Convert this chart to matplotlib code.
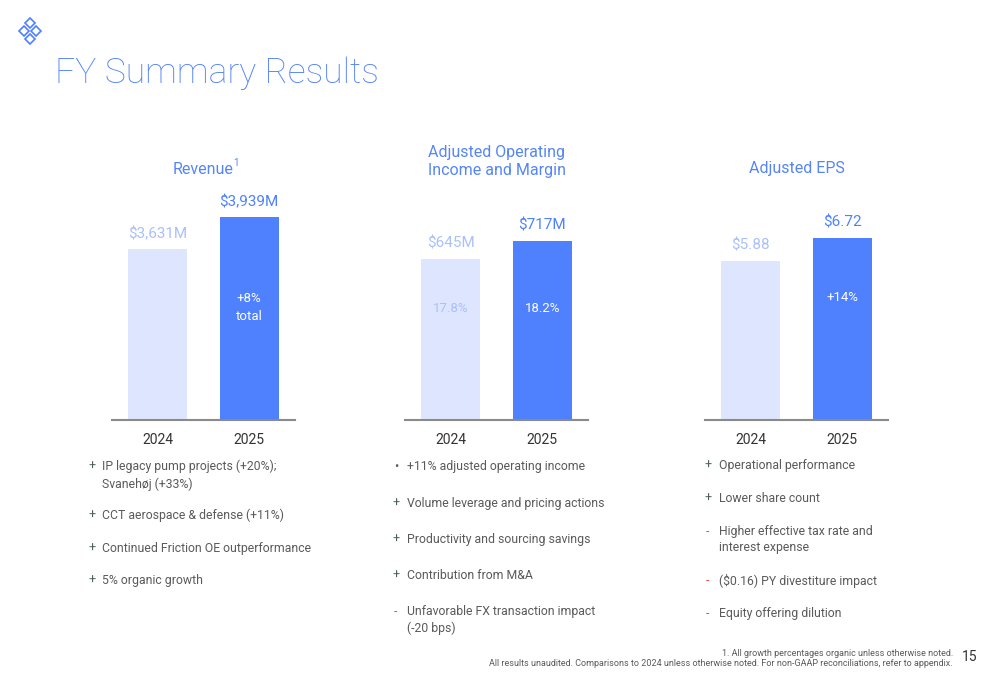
import matplotlib
matplotlib.use("Agg")
import matplotlib.pyplot as plt
from matplotlib.patches import Polygon
from matplotlib.transforms import blended_transform_factory

plt.rcParams['font.family'] = ['Roboto', 'DejaVu Sans']

# data
years = ["2024", "2025"]
revenue = [3631, 3939]
revenue_labels = ["$3,631M", "$3,939M"]
op_income = [645, 717]
op_income_labels = ["$645M", "$717M"]
op_margin = ["17.8%", "18.2%"]
eps = [5.88, 6.72]
eps_labels = ["$5.88", "$6.72"]

rev_notes = [("+", "IP legacy pump projects (+20%);\nSvanehøj (+33%)"),
             ("+", "CCT aerospace & defense (+11%)"),
             ("+", "Continued Friction OE outperformance"),
             ("+", "5% organic growth")]
op_notes = [("•", "+11% adjusted operating income"),
            ("+", "Volume leverage and pricing actions"),
            ("+", "Productivity and sourcing savings"),
            ("+", "Contribution from M&A"),
            ("-", "Unfavorable FX transaction impact\n(-20 bps)")]
eps_notes = [("+", "Operational performance"),
             ("+", "Lower share count"),
             ("-", "Higher effective tax rate and\ninterest expense"),
             ("-", "($0.16) PY divestiture impact"),
             ("-", "Equity offering dilution")]

# colours
BLUE = "#4F81FF"
LIGHT = "#DDE6FE"
LIGHT_TXT = "#A9C0FB"
TITLE = "#5585F7"
GREY = "#5a5a5a"
PLUS = "#4A6355"
MINUS = "#E0505A"

W, H = 1000, 685
fig = plt.figure(figsize=(10, 6.85), dpi=100)

def fx(x):
    return x / W

def fy(y):
    return 1 - y / H

# logo
for cx, cy in [(30, 23), (24, 31), (36, 31), (30, 39)]:
    d = 5
    fig.patches.append(Polygon([(fx(cx), fy(cy - d)), (fx(cx + d), fy(cy)),
                                (fx(cx), fy(cy + d)), (fx(cx - d), fy(cy))],
                               closed=True, fill=False, edgecolor=BLUE, lw=1.2,
                               transform=fig.transFigure))

fig.text(fx(55), fy(73), "FY Summary Results", fontsize=25.5, color=TITLE,
         fontweight='light', va='center', ha='left')

panels = [
    (112, "Revenue", 169, revenue, revenue_labels, (1985, 4680), ["", "+8%\ntotal"], 0.40),
    (405, "Adjusted Operating\nIncome and Margin", 162, op_income, op_income_labels, (0, 1120), op_margin, 0.40),
    (705, "Adjusted EPS", 169, eps, eps_labels, (0, 10.33), ["", "+14%"], 0.436),
]

for left, title, ty, vals, labels, ylim, inner, inner_y in panels:
    ax = fig.add_axes([fx(left), fy(420), fx(183), 280 / H])
    ax.bar(years, vals, width=0.64, color=[LIGHT, BLUE])
    ax.set_xlim(-0.5, 1.5)
    ax.set_ylim(*ylim)
    for s in ["top", "right", "left"]:
        ax.spines[s].set_visible(False)
    ax.spines["bottom"].set_color("#8a8a8a")
    ax.spines["bottom"].set_linewidth(1.5)
    ax.set_yticks([])
    ax.tick_params(axis='x', length=0, pad=9, labelsize=10, labelcolor="#333333")
    for i, (v, lab) in enumerate(zip(vals, labels)):
        ax.annotate(lab, (i, v), xytext=(0, 11), textcoords='offset points',
                    ha='center', va='center', fontsize=11,
                    color=LIGHT_TXT if i == 0 else BLUE)
    tr = blended_transform_factory(ax.transData, ax.transAxes)
    for i, t in enumerate(inner):
        if t:
            ax.text(i, inner_y, t, transform=tr, ha='center', va='center',
                    fontsize=9.5, color=LIGHT_TXT if i == 0 else "white",
                    linespacing=1.5)
    fig.text(fx(left + 91.5), fy(ty), title, ha='center', va='center',
             fontsize=11.5, color=TITLE, linespacing=1.25)
    if title == "Revenue":
        fig.text(fx(left + 91.5 + 30), fy(ty - 6), "1", ha='left', va='center',
                 fontsize=7, color=TITLE)

def bullets(notes, mx, tx, ys):
    for (m, t), y in zip(notes, ys):
        fig.text(fx(mx), fy(y), m, ha='center', va='top', fontsize=9,
                 color=MINUS if m == "-" else (GREY if m == "•" else PLUS))
        fig.text(fx(tx), fy(y), t, ha='left', va='top', fontsize=8.8,
                 color=GREY, linespacing=1.35)

bullets(rev_notes, 92, 102, [460, 509, 542, 574])
bullets(op_notes, 396, 407, [460, 497, 533, 569, 605])
bullets(eps_notes, 708, 719, [459, 492, 525, 574, 607])

fig.text(fx(953), fy(653), "1. All growth percentages organic unless otherwise noted.",
         ha='right', va='center', fontsize=6.5, color=GREY)
fig.text(fx(953), fy(664), "All results unaudited. Comparisons to 2024 unless otherwise noted. "
         "For non-GAAP reconciliations, refer to appendix.",
         ha='right', va='center', fontsize=6.5, color=GREY)
fig.text(fx(970), fy(657), "15", ha='center', va='center', fontsize=10, color="#333333")

fig.savefig("out.png", dpi=100, facecolor="white")
